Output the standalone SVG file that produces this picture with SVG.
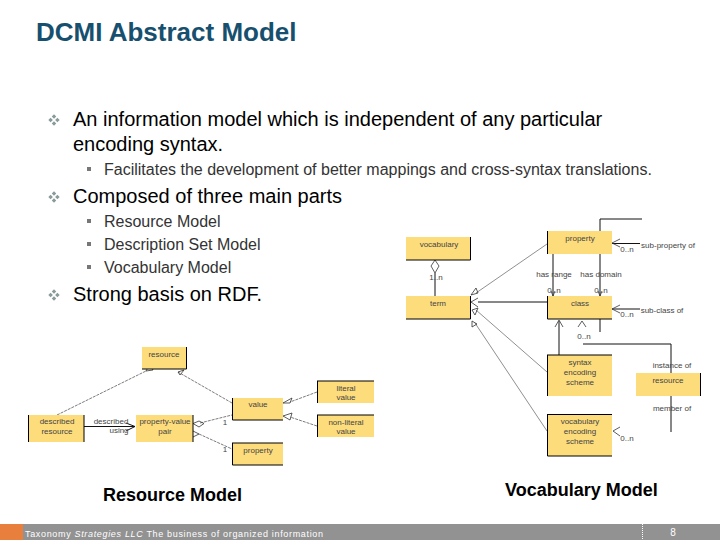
<svg xmlns="http://www.w3.org/2000/svg" width="720" height="540" viewBox="0 0 720 540">
<style>
text{font-family:"Liberation Sans",Arial,sans-serif}
.h{font-size:20px;fill:#000}
.s{font-size:16px;fill:#333}
.b{fill:#8a9a9a}
.q{fill:#777}
.n{fill:#fddc7c}
.e{stroke:#000;stroke-width:1;fill:none}
.l{font-size:8px;fill:#444;text-anchor:middle}
.c{stroke:#333;stroke-width:.8;fill:none}
.d{stroke:#444;stroke-width:.7;fill:none;stroke-dasharray:3 1}
.t{stroke:#444;stroke-width:.6;fill:none}
.k{stroke:#111;stroke-width:1;fill:none}
.cap{font-size:18px;font-weight:bold;fill:#000}
</style>
<defs>
<g id="bul" class="b"><rect x="-1.6" y="-5" width="3.2" height="3.2" transform="rotate(45 0 -3.4)"/><rect x="-1.6" y="1.8" width="3.2" height="3.2" transform="rotate(45 0 3.4)"/><rect x="-5" y="-1.6" width="3.2" height="3.2" transform="rotate(45 -3.4 0)"/><rect x="1.8" y="-1.6" width="3.2" height="3.2" transform="rotate(45 3.4 0)"/></g>
</defs>
<rect width="720" height="540" fill="#fff"/>
<text x="36" y="41" fill="#17506e" style="font-size:26px;font-weight:bold">DCMI Abstract Model</text>
<g id="text-body">
<use href="#bul" x="54" y="120"/>
<text class="h" x="73" y="126">An information model which is independent of any particular</text>
<text class="h" x="73" y="150.500">encoding syntax.</text>
<rect class="q" x="87" y="167" width="4" height="4"/>
<text class="s" x="104" y="175">Facilitates the development of better mappings and cross-syntax translations.</text>
<use href="#bul" x="54" y="197"/>
<text class="h" x="73" y="203">Composed of three main parts</text>
<rect class="q" x="87" y="219" width="4" height="4"/>
<text class="s" x="104" y="227">Resource Model</text>
<rect class="q" x="87" y="242" width="4" height="4"/>
<text class="s" x="104" y="250">Description Set Model</text>
<rect class="q" x="87" y="265" width="4" height="4"/>
<text class="s" x="104" y="273">Vocabulary Model</text>
<use href="#bul" x="54" y="295"/>
<text class="h" x="73" y="301">Strong basis on RDF.</text>
</g>
<g id="connectors">
<path class="d" d="M57 415L146 371M232 403L178 372M317 392L290 402M317 426L290 417M200 423L232 415M199 434L232 449"/>
<path class="k" d="M84 426.500H135M126 423L135 426.500L126 431"/>
<path class="c" d="M146 371L153 370L150 364ZM178 372L184 370L180 375ZM283 403L292 398L290 403ZM283 416L292 413L290 420Z"/>
<path class="c" d="M193 423.500L199 421L204 423.500L199 427ZM193 431L199 434L193 437"/>
<path class="k" d="M435 273V296"/>
<path class="c" d="M435 260L439 266L435 273L431 266Z"/>
<path class="t" d="M547 244L476 293M547 372L476 310M547 431L475 323"/>
<path class="k" d="M478 302H547M642 219H600V231M553 254V296M600 254V296M612 243.500H640M612 309H640"/>
<path class="c" d="M471 295L476 288L478 293ZM478 298L471 302L478 307M472 310L478 308L475 315ZM472 321L472 327L477 324Z"/>
<path class="c" d="M620 239L612 243L620 247M620 305L612 309L620 313M620 427L613 431L620 436M551 291L553 296L555 291M598 291L600 296L602 291"/>
<path class="k" d="M559 355V321M600 319V332M583 344H671V373M671 396V432"/>
<path class="c" d="M555 327L559 320L563 327M578 327L582 321L586 327"/>
</g>
<g id="n-resource"><rect class="n" x="142" y="347" width="45" height="22"/><path class="e" d="M186.500 347V369H142"/><text class="l" x="164" y="357">resource</text></g>
<g id="n-described"><rect class="n" x="28" y="415" width="56" height="27"/><path class="e" d="M28.500 415V442M84 415V442"/><text class="l" x="57" y="424">described</text><text class="l" x="57" y="434">resource</text></g>
<g id="n-pv"><rect class="n" x="136" y="415" width="57" height="27"/><path class="e" d="M193 415V442"/><text class="l" x="165" y="424">property-value</text><text class="l" x="165" y="434">pair</text></g>
<g id="n-value"><rect class="n" x="232" y="398" width="51" height="22"/><path class="e" d="M232.500 398V420H283"/><text class="l" x="258" y="407">value</text></g>
<g id="n-literal"><rect class="n" x="317" y="381" width="57" height="22"/><path class="e" d="M317.500 381V403M317 381H374"/><text class="l" x="346" y="391">literal</text><text class="l" x="346" y="400">value</text></g>
<g id="n-nonliteral"><rect class="n" x="317" y="415" width="57" height="22"/><path class="e" d="M317.500 415V437M317 415H374"/><text class="l" x="346" y="425">non-literal</text><text class="l" x="346" y="434">value</text></g>
<g id="n-property"><rect class="n" x="232" y="443" width="51" height="22"/><path class="e" d="M232.500 443V465H283M232 443H283"/><text class="l" x="258" y="453">property</text></g>
<g id="res-labels">
<text class="l" x="111" y="424">described</text><text class="l" x="119" y="432.500">using</text>
<text class="l" x="225" y="425">1</text><text class="l" x="225" y="452">1</text>
</g>
<g id="n-vocabulary"><rect class="n" x="406" y="237" width="65" height="23"/><path class="e" d="M470.500 237V260H406"/><text class="l" x="439" y="247">vocabulary</text></g>
<g id="n-term"><rect class="n" x="406" y="296" width="65" height="23"/><path class="e" d="M470.500 296V319H406"/><text class="l" x="438" y="306">term</text></g>
<g id="n-vproperty"><rect class="n" x="547" y="231" width="65" height="23"/><path class="e" d="M547.500 231V254"/><text class="l" x="580" y="241">property</text></g>
<g id="n-class"><rect class="n" x="547" y="296" width="65" height="23"/><path class="e" d="M547.500 296V319H612"/><text class="l" x="580" y="306">class</text></g>
<g id="n-syntax"><rect class="n" x="547" y="355" width="65" height="41"/><path class="e" d="M547.500 355V396M547 355H612"/><text class="l" x="580" y="365">syntax</text><text class="l" x="580" y="375">encoding</text><text class="l" x="580" y="385">scheme</text></g>
<g id="n-vocab-enc"><rect class="n" x="547" y="414" width="65" height="42"/><path class="e" d="M547.500 414V456H612M547 414.500H612"/><text class="l" x="580" y="424">vocabulary</text><text class="l" x="580" y="434">encoding</text><text class="l" x="580" y="444">scheme</text></g>
<g id="n-vresource"><rect class="n" x="636" y="373" width="65" height="23"/><path class="e" d="M700.500 373V396"/><text class="l" x="668" y="383">resource</text></g>
<g id="voc-labels">
<text class="l" x="436" y="280">1..n</text>
<text class="l" x="554" y="277">has range</text><text class="l" x="601" y="277">has domain</text>
<text class="l" x="554" y="293">0..n</text><text class="l" x="601" y="293">0..n</text>
<text class="l" x="627" y="252">0..n</text><text class="l" x="627" y="317">0..n</text>
<text class="l" x="668" y="248">sub-property of</text>
<text class="l" x="662" y="313">sub-class of</text>
<text class="l" x="584" y="339">0..n</text>
<text class="l" x="672" y="368">instance of</text>
<text class="l" x="672" y="411">member of</text>
<text class="l" x="627" y="441">0..n</text>
</g>
<text class="cap" x="103" y="501">Resource Model</text>
<text class="cap" x="505" y="496">Vocabulary Model</text>
<g id="footer">
<rect x="0" y="524" width="720" height="16" fill="#929292"/>
<rect x="0" y="524" width="23" height="16" fill="#e87f3c"/>
<text x="25" y="537" fill="#fff" style="font-size:9px" textLength="298">Taxonomy <tspan font-style="italic">Strategies LLC</tspan>  The business of organized information</text>
<path d="M642.500 524V540" stroke="#fff" stroke-width="1" stroke-dasharray="1 1"/>
<text x="673" y="536" fill="#fff" text-anchor="middle" style="font-size:10px">8</text>
</g>
</svg>
